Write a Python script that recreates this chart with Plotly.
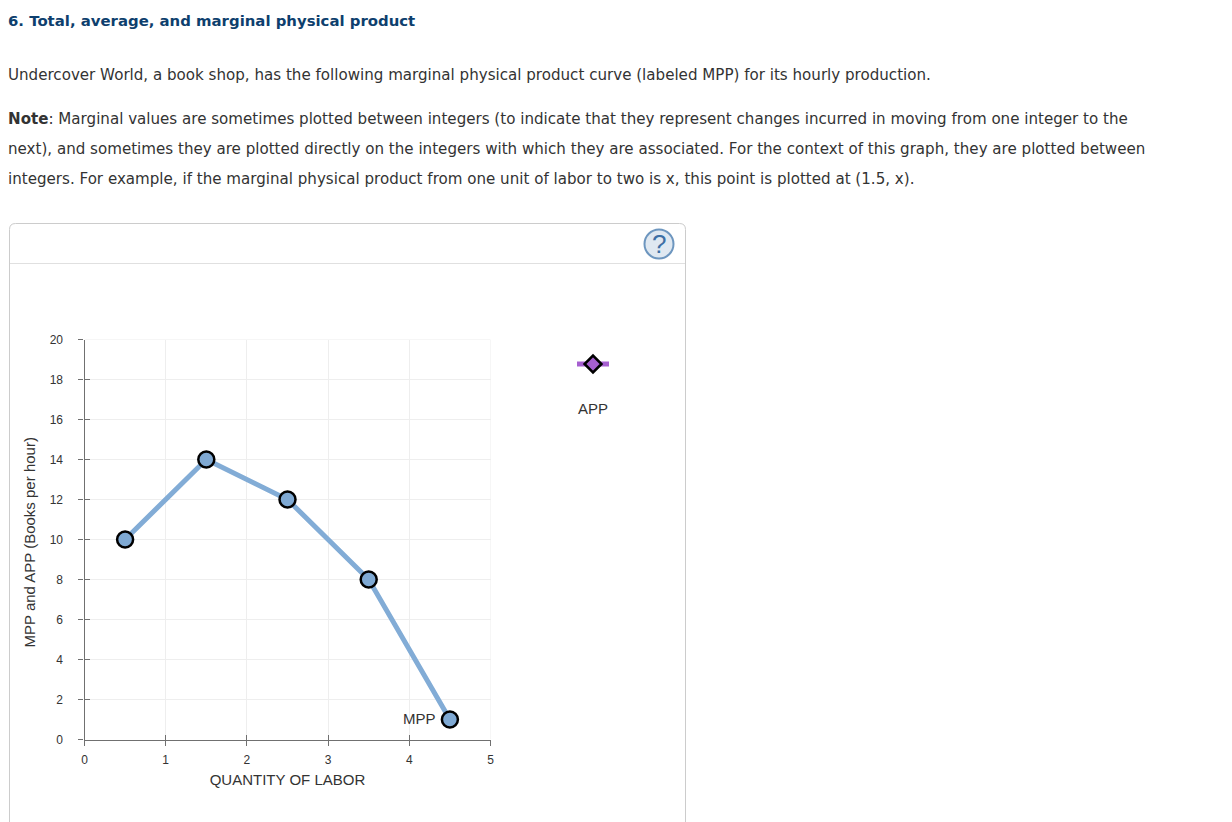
#!/usr/bin/env python3
# -*- coding: utf-8 -*-
import plotly.graph_objects as go

W, H = 1232, 822

# MPP curve
labor = [0.5, 1.5, 2.5, 3.5, 4.5]
mpp = [10, 14, 12, 8, 1]

x_ticks = [0, 1, 2, 3, 4, 5]
y_ticks = [0, 2, 4, 6, 8, 10, 12, 14, 16, 18, 20]

# APP key in the palette, on its own little axes
key_x = [0, 0.5, 1]
key_y = [0.5, 0.5, 0.5]

heading = "6. Total, average, and marginal physical product"
paragraphs = [
    "Undercover World, a book shop, has the following marginal physical product curve (labeled MPP) for its hourly production.",
    "<b>Note</b>: Marginal values are sometimes plotted between integers (to indicate that they represent changes incurred in moving from one integer to the",
    "next), and sometimes they are plotted directly on the integers with which they are associated. For the context of this graph, they are plotted between",
    "integers. For example, if the marginal physical product from one unit of labor to two is x, this point is plotted at (1.5, x).",
]
paragraph_y = [75, 119, 149, 179]

TEXT = "#333333"
AXIS = "#707070"
GRID = "#eeeeee"
FONT = "Liberation Sans"
PAGE_FONT = "DejaVu Sans"


def px(v):
    return v / W


def py(v):
    return 1 - v / H


fig = go.Figure()

fig.add_trace(go.Scatter(
    x=labor, y=mpp, mode="lines+markers", name="MPP",
    line=dict(color="#82acd6", width=5),
    marker=dict(size=16, color="#7fa9d3", line=dict(color="black", width=2.5)),
    cliponaxis=False, showlegend=False,
))
# empty-looking trace, plotly only draws the crossing ticks if x2/y2 hold something
fig.add_trace(go.Scatter(
    x=labor, y=mpp, xaxis="x2", yaxis="y2", mode="lines", line=dict(width=0),
    hoverinfo="skip", showlegend=False,
))
fig.add_trace(go.Scatter(
    x=key_x, y=key_y, xaxis="x3", yaxis="y3", mode="lines", name="APP",
    line=dict(color="#a65fd0", width=5), showlegend=False,
))
fig.add_trace(go.Scatter(
    x=key_x[1:2], y=key_y[1:2], xaxis="x3", yaxis="y3", mode="markers", name="APP",
    marker=dict(symbol="diamond", size=13, color="#a65fd0", line=dict(color="black", width=2.5)),
    showlegend=False,
))

x_dom = [px(84.5), px(490.5)]
y_dom = [py(739.5), py(339.5)]

axis_style = dict(
    showline=True, linecolor=AXIS, linewidth=1.2, tickcolor=AXIS, tickwidth=1.2, ticklen=5,
    gridcolor=GRID, gridwidth=1, zeroline=False,
    tickfont=dict(family=FONT, size=12, color=TEXT),
)

fig.update_layout(
    width=W, height=H,
    margin=dict(l=0, r=0, t=0, b=0, autoexpand=False),
    paper_bgcolor="white", plot_bgcolor="white",
    xaxis=dict(domain=x_dom, range=[0, 5], tickvals=x_ticks, ticks="outside", anchor="y",
               ticklabelstandoff=4,
               title=dict(text="QUANTITY OF LABOR", standoff=8, font=dict(family=FONT, size=15, color=TEXT)),
               **axis_style),
    yaxis=dict(domain=y_dom, range=[0, 20], tickvals=y_ticks, ticks="outside", anchor="x",
               ticklabelstandoff=13, **axis_style),
    # second pair of axes, only to make the tick marks cross the axis lines
    xaxis2=dict(domain=x_dom, range=[0, 5], tickvals=x_ticks, ticks="inside", anchor="y2", overlaying="x",
                showticklabels=False, showgrid=False, zeroline=False,
                tickcolor=AXIS, tickwidth=1.2, ticklen=5),
    yaxis2=dict(domain=y_dom, range=[0, 20], tickvals=y_ticks, ticks="inside", anchor="x2", overlaying="y",
                showticklabels=False, showgrid=False, zeroline=False,
                tickcolor=AXIS, tickwidth=1.2, ticklen=5),
    xaxis3=dict(domain=[px(577), px(609)], range=[0, 1], visible=False, anchor="y3"),
    yaxis3=dict(domain=[py(380), py(348)], range=[0, 1], visible=False, anchor="x3"),
)

# plotly drops the gridlines on the far edges of the range
fig.add_shape(type="line", xref="x", yref="y", x0=x_ticks[-1], x1=x_ticks[-1], y0=y_ticks[0], y1=y_ticks[-1],
              line=dict(color=GRID, width=1), layer="below")
fig.add_shape(type="line", xref="x", yref="y", x0=x_ticks[0], x1=x_ticks[-1], y0=y_ticks[-1], y1=y_ticks[-1],
              line=dict(color=GRID, width=1), layer="below")

# card around the graph, it runs off the bottom of the page
fig.add_shape(
    type="path", xref="paper", yref="paper",
    path=f"M {px(9.5)} {py(830)} L {px(9.5)} {py(229.5)} Q {px(9.5)} {py(223.5)} {px(15.5)} {py(223.5)} "
         f"L {px(679.5)} {py(223.5)} Q {px(685.5)} {py(223.5)} {px(685.5)} {py(229.5)} L {px(685.5)} {py(830)}",
    line=dict(color="#cccccc", width=1), layer="below",
)
fig.add_shape(type="line", xref="paper", yref="paper", x0=px(10), x1=px(685), y0=py(263.5), y1=py(263.5),
              line=dict(color="#e0e0e0", width=1), layer="below")
# help button
fig.add_shape(type="circle", xref="paper", yref="paper", x0=px(644.5), x1=px(673.5), y0=py(258.5), y1=py(229.5),
              fillcolor="#dfe8f1", line=dict(color="#6d96bf", width=2))
fig.add_annotation(text="?", xref="paper", yref="paper", x=px(659), y=py(244), xanchor="center", yanchor="middle",
                   showarrow=False, font=dict(family=FONT, size=26, color="#3d6fa5"))

fig.add_annotation(text=f"<b>{heading}</b>", xref="paper", yref="paper", x=px(6), y=py(21),
                   xanchor="left", yanchor="middle",
                   showarrow=False, font=dict(family=PAGE_FONT, size=14.9, color="#0e3f6e"))
for line, y in zip(paragraphs, paragraph_y):
    fig.add_annotation(text=line, xref="paper", yref="paper", x=px(6), y=py(y), xanchor="left", yanchor="middle",
                       showarrow=False, font=dict(family=PAGE_FONT, size=15.1, color=TEXT))

# y title as annotation, it sits a little below the middle of the axis
fig.add_annotation(text="MPP and APP (Books per hour)", xref="paper", yref="paper", x=px(28.5), y=py(543),
                   xanchor="center", yanchor="middle", textangle=-90,
                   showarrow=False, font=dict(family=FONT, size=15, color=TEXT))

fig.add_annotation(text="APP", xref="paper", yref="paper", x=px(593), y=py(408.5), xanchor="center", yanchor="middle",
                   showarrow=False, font=dict(family=FONT, size=15, color=TEXT))
fig.add_annotation(text="MPP", x=labor[-1], y=mpp[-1], xref="x", yref="y", xanchor="right", yanchor="middle",
                   xshift=-12, yshift=1,
                   showarrow=False, font=dict(family=FONT, size=15, color=TEXT))

fig.write_html("out.html", config=dict(displayModeBar=False), post_script="document.body.style.margin='0';")
